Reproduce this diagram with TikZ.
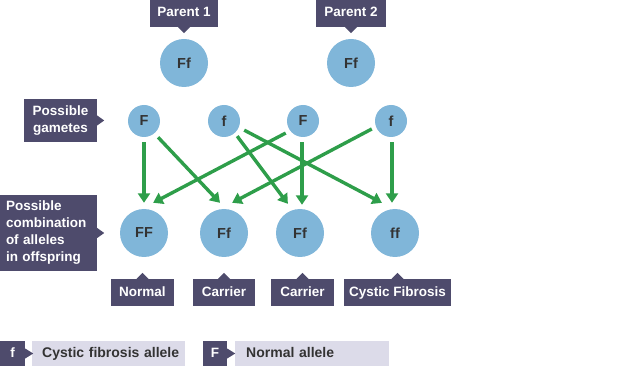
\documentclass[tikz,border=0pt]{standalone}
\usepackage{fontspec}
\setmainfont{Liberation Sans}
\usetikzlibrary{arrows.meta}
\definecolor{boxc}{HTML}{4E4B6C}
\definecolor{circc}{HTML}{80B6D9}
\definecolor{arrc}{HTML}{2E9E4A}
\definecolor{legc}{HTML}{DCDBE9}
\definecolor{txtc}{HTML}{333333}
\begin{document}
\begin{tikzpicture}[x=1pt,y=-1pt,
  lbox/.style={fill=boxc,text=white,font=\fontsize{13.5}{17}\selectfont\bfseries,inner sep=0pt,minimum height=27pt},
  oneline/.style={text height=10pt,text depth=3pt},
  legbox/.style={fill=legc,text=txtc,font=\fontsize{14}{17}\selectfont\bfseries,inner sep=0pt,minimum height=25pt,text height=10pt,text depth=3pt},
  circ/.style={circle,fill=circc,text=txtc,font=\fontsize{14.5}{17}\selectfont\bfseries,inner sep=0pt},
  bigc/.style={circ,minimum size=48pt},
  smallc/.style={circ,minimum size=32pt},
  garr/.style={draw=arrc,line width=3.4pt,-{Triangle[width=12pt,length=9.5pt]}},
  ptr/.style={fill=boxc}
]
\useasboundingbox (0,0) rectangle (624,366);

% parents
\node[lbox,oneline,minimum width=68pt] (p1lab) at (184,13.5) {Parent 1};
\node[lbox,oneline,minimum width=70pt] (p2lab) at (351,13.5) {Parent 2};
\fill[ptr] ([xshift=-6pt]p1lab.south) -- ([yshift=-6pt]p1lab.south) -- ([xshift=6pt]p1lab.south) -- cycle;
\fill[ptr] ([xshift=-6pt]p2lab.south) -- ([yshift=-6pt]p2lab.south) -- ([xshift=6pt]p2lab.south) -- cycle;
\node[bigc] (par1) at (184,63) {Ff};
\node[bigc] (par2) at (351,63) {Ff};

% gametes
\node[lbox,minimum width=73pt,minimum height=43pt,align=center] (gamlab) at (60.5,120.5) {Possible\\gametes};
\fill[ptr] ([yshift=5pt]gamlab.east) -- ([xshift=7pt]gamlab.east) -- ([yshift=-5pt]gamlab.east) -- cycle;
\node[smallc] (g1) at (144,121) {F};
\node[smallc] (g2) at (224,121) {f};
\node[smallc] (g3) at (303,121) {F};
\node[smallc] (g4) at (391,121) {f};

% offspring
\node[lbox,minimum height=76pt,text width=85pt,inner xsep=6pt,align=left] (comblab) at (48.5,233) {Possible\\combination\\of alleles\\in offspring};
\fill[ptr] ([yshift=5pt]comblab.east) -- ([xshift=7pt]comblab.east) -- ([yshift=-5pt]comblab.east) -- cycle;
\node[bigc] (o1) at (144,233) {FF};
\node[bigc] (o2) at (224,233) {Ff};
\node[bigc] (o3) at (300,233) {Ff};
\node[bigc] (o4) at (395,233) {ff};

% arrows
\draw[garr,shorten <=5pt,shorten >=6pt] (g1.south) -- (g1.south |- o1.north);
\draw[garr,shorten <=5.3pt,shorten >=8.3pt] (g1.-50) -- (o2.86);
\draw[garr,shorten <=3.9pt,shorten >=7.7pt] (g2.-48) -- (o3.108);
\draw[garr,shorten <=6pt,shorten >=12.9pt] (g2.-23) -- (o4.94);
\draw[garr,shorten <=4.9pt,shorten >=13.2pt] (g3.217) -- (o1.96);
\draw[garr,shorten <=5pt,shorten >=4pt] ([xshift=-1pt]g3.south) -- ([xshift=-1pt]g3.south |- o3.north);
\draw[garr,shorten <=4.6pt,shorten >=13.5pt] (g4.201) -- (o2.99);
\draw[garr,shorten <=5pt,shorten >=6pt] ([xshift=1pt]g4.south) -- ([xshift=1pt]g4.south |- o4.north);

% outcome labels
\node[lbox,oneline,minimum width=63pt] (l1) at (142.5,292.5) {Normal};
\node[lbox,oneline,minimum width=62pt] (l2) at (224,292.5) {Carrier};
\node[lbox,oneline,minimum width=63pt] (l3) at (302.5,292.5) {Carrier};
\node[lbox,oneline,minimum width=107pt] (l4) at (397.5,292.5) {Cystic Fibrosis};
\foreach \n in {l1,l2,l3,l4}{
  \fill[ptr] ([xshift=-6pt]\n.north) -- ([yshift=6pt]\n.north) -- ([xshift=6pt]\n.north) -- cycle;
}

% legend
\node[legbox,minimum width=153pt,text width=143pt,inner xsep=5pt,align=left,anchor=west] (leg1) at (32,353.5) {\hspace*{5pt}Cystic fibrosis allele};
\node[lbox,oneline,minimum width=25pt,minimum height=25pt] (key1) at (12.5,353.5) {f};
\fill[ptr] ([yshift=5pt]key1.east) -- ([xshift=8pt]key1.east) -- ([yshift=-5pt]key1.east) -- cycle;
\node[legbox,minimum width=154pt,text width=144pt,inner xsep=5pt,align=left,anchor=west] (leg2) at (235,353.5) {\hspace*{6pt}Normal allele};
\node[lbox,oneline,minimum width=24pt,minimum height=25pt] (key2) at (215,353.5) {F};
\fill[ptr] ([yshift=5pt]key2.east) -- ([xshift=8pt]key2.east) -- ([yshift=-5pt]key2.east) -- cycle;
\end{tikzpicture}
\end{document}
